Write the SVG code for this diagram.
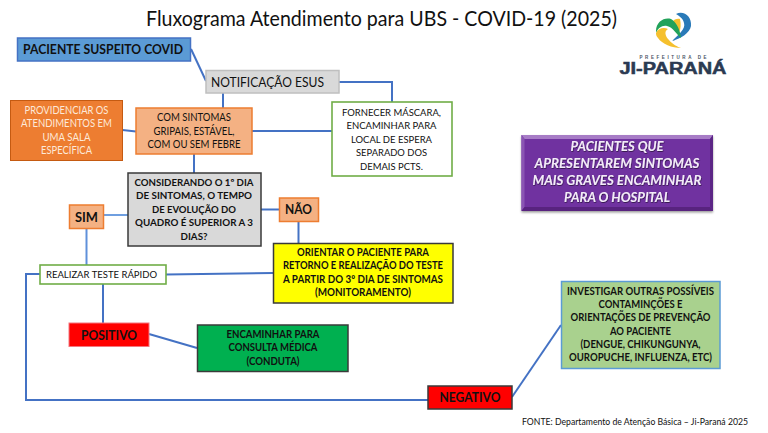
<svg xmlns="http://www.w3.org/2000/svg" width="768" height="433" viewBox="0 0 768 433">
<defs>
<filter id="sh" x="-5%" y="-5%" width="110%" height="115%"><feDropShadow dx="0" dy="1.5" stdDeviation="1" flood-color="#000" flood-opacity=".4"/></filter>
<filter id="ts" x="-5%" y="-5%" width="110%" height="115%"><feDropShadow dx="0.5" dy="0.8" stdDeviation="0.5" flood-color="#000" flood-opacity=".6"/></filter>
</defs>
<style>
text{font-family:Lato,"Liberation Sans",sans-serif;text-anchor:middle;fill:#111}
.b{font-weight:700}
.c{fill:none;stroke:#4472c4;stroke-width:2}
.box{stroke-width:1.5}
.or{fill:#f4b183;stroke:#ed7d31}
.gr{fill:#d9d9d9;stroke:#bfbfbf}
.wg{fill:#fff;stroke:#70ad47;stroke-width:1.6}
.dk{stroke:#3a3a3a}
</style>
<rect width="768" height="433" fill="#fff"/>
<text id="title" x="381.500" y="26" font-size="21.500" textLength="471" lengthAdjust="spacingAndGlyphs">Fluxograma Atendimento para UBS - COVID-19 (2025)</text>

<g id="connectors">
<path class="c" d="M191 49L206 81"/>
<path class="c" d="M339 82H392V102"/>
<path class="c" d="M223 93V108"/>
<path class="c" d="M122.500 130L136 131.500"/>
<path class="c" d="M252 131H332"/>
<path class="c" d="M194 154V173"/>
<path class="c" d="M261 209.500H279"/>
<path class="c" d="M103.500 215H128" style="stroke:#6f9fe0"/>
<path class="c" d="M86.500 228V265" style="stroke:#5f90da"/>
<path class="c" d="M298.500 221V243"/>
<path class="c" d="M166 274.500L273 273"/>
<path class="c" d="M40 274H26V400H428"/>
<path class="c" d="M103 284V323"/>
<path class="c" d="M149 334L197 348"/>
<path class="c" d="M512 397L561 325"/>
</g>

<g id="n-paciente"><rect class="box" x="17.500" y="38" width="173" height="23" fill="#5b9bd5" stroke="#4472c4"/>
<text class="b" x="103" y="54" font-size="12.500" textLength="160" lengthAdjust="spacingAndGlyphs">PACIENTE SUSPEITO COVID</text></g>

<g id="n-notificacao"><rect class="box gr" x="206" y="70.500" width="133" height="22.500"/>
<text x="267.500" y="86.500" font-size="13" textLength="113" lengthAdjust="spacingAndGlyphs">NOTIFICAÇÃO ESUS</text></g>

<g id="n-providenciar"><rect x="10.500" y="100.500" width="112" height="60" fill="#ed7d31" stroke="#c55a11" stroke-width="1"/>
<g font-size="10.500">
<text x="66.500" y="114" style="fill:#fde9d9" textLength="84" lengthAdjust="spacingAndGlyphs">PROVIDENCIAR OS</text>
<text x="66.500" y="127" style="fill:#fde9d9" textLength="91" lengthAdjust="spacingAndGlyphs">ATENDIMENTOS EM</text>
<text x="66.500" y="141" style="fill:#fde9d9" textLength="48" lengthAdjust="spacingAndGlyphs">UMA SALA</text>
<text x="66.500" y="154" style="fill:#fde9d9" textLength="51" lengthAdjust="spacingAndGlyphs">ESPECÍFICA</text></g></g>

<g id="n-sintomas"><rect class="box or" x="136" y="108" width="116" height="46"/>
<g font-size="10.500">
<text x="194" y="121" textLength="74" lengthAdjust="spacingAndGlyphs">COM SINTOMAS</text>
<text x="194" y="135" textLength="81" lengthAdjust="spacingAndGlyphs">GRIPAIS, ESTÁVEL,</text>
<text x="194" y="148" textLength="93" lengthAdjust="spacingAndGlyphs">COM OU SEM FEBRE</text></g></g>

<g id="n-fornecer"><rect class="wg" x="332" y="102" width="120" height="74"/>
<g font-size="10">
<text x="391.500" y="116" textLength="99" lengthAdjust="spacingAndGlyphs">FORNECER MÁSCARA,</text>
<text x="391.500" y="129" textLength="90" lengthAdjust="spacingAndGlyphs">ENCAMINHAR PARA</text>
<text x="391.500" y="143" textLength="81" lengthAdjust="spacingAndGlyphs">LOCAL DE ESPERA</text>
<text x="391.500" y="156" textLength="71" lengthAdjust="spacingAndGlyphs">SEPARADO DOS</text>
<text x="391.500" y="170" textLength="63" lengthAdjust="spacingAndGlyphs">DEMAIS PCTS.</text></g></g>

<g id="n-considerando"><rect class="box dk" x="128" y="173" width="133" height="73" fill="#d9d9d9"/>
<g class="b" font-size="10">
<text x="194" y="186" textLength="119" lengthAdjust="spacingAndGlyphs">CONSIDERANDO O 1º DIA</text>
<text x="194" y="199" textLength="116" lengthAdjust="spacingAndGlyphs">DE SINTOMAS, O TEMPO</text>
<text x="194" y="213" textLength="84" lengthAdjust="spacingAndGlyphs">DE EVOLUÇÃO DO</text>
<text x="194" y="226" textLength="118" lengthAdjust="spacingAndGlyphs">QUADRO É SUPERIOR A 3</text>
<text x="194" y="240" textLength="27" lengthAdjust="spacingAndGlyphs">DIAS?</text></g></g>

<g id="n-sim"><rect class="box or" x="69.500" y="205" width="34" height="23.500"/>
<text class="b" x="86.500" y="222" font-size="13" textLength="23" lengthAdjust="spacingAndGlyphs">SIM</text></g>

<g id="n-nao"><rect class="box or" x="279.500" y="198" width="39" height="23.500"/>
<text class="b" x="298.500" y="214" font-size="13.500" textLength="27" lengthAdjust="spacingAndGlyphs">NÃO</text></g>

<g id="n-teste"><rect class="wg" x="40" y="265" width="126" height="19"/>
<text x="101.500" y="278" font-size="10" textLength="111" lengthAdjust="spacingAndGlyphs">REALIZAR TESTE RÁPIDO</text></g>

<g id="n-orientar"><rect class="box dk" x="273.500" y="243.500" width="179.500" height="59.500" fill="#ff0"/>
<g class="b" font-size="10.500">
<text x="363" y="256" textLength="132" lengthAdjust="spacingAndGlyphs">ORIENTAR O PACIENTE PARA</text>
<text x="363" y="269" textLength="160" lengthAdjust="spacingAndGlyphs">RETORNO E REALIZAÇÃO DO TESTE</text>
<text x="363" y="283" textLength="160" lengthAdjust="spacingAndGlyphs">A PARTIR DO 3º DIA DE SINTOMAS</text>
<text x="363" y="296" textLength="96" lengthAdjust="spacingAndGlyphs">(MONITORAMENTO)</text></g></g>

<g id="n-positivo"><rect x="69" y="323" width="80" height="23.500" fill="#f00" stroke="#f4777f" stroke-width="1"/>
<text class="b" x="109" y="340" font-size="13.500" textLength="56" lengthAdjust="spacingAndGlyphs">POSITIVO</text></g>

<g id="n-encaminhar"><rect class="box dk" x="197.500" y="325" width="150.500" height="46.500" fill="#00b050"/>
<g class="b" font-size="10.500">
<text x="273" y="338" textLength="93" lengthAdjust="spacingAndGlyphs">ENCAMINHAR PARA</text>
<text x="273" y="351" textLength="89" lengthAdjust="spacingAndGlyphs">CONSULTA MÉDICA</text>
<text x="273" y="365" textLength="53" lengthAdjust="spacingAndGlyphs">(CONDUTA)</text></g></g>

<g id="n-negativo"><rect class="box dk" x="428" y="386" width="84" height="23" fill="#f00"/>
<text class="b" x="470" y="402" font-size="13" textLength="61" lengthAdjust="spacingAndGlyphs">NEGATIVO</text></g>

<g id="n-investigar"><rect class="box" x="561.500" y="281.500" width="158.500" height="87" fill="#a9d18e" stroke="#5b9bd5"/>
<g class="b" font-size="10.500">
<text x="640.500" y="295" textLength="147" lengthAdjust="spacingAndGlyphs">INVESTIGAR OUTRAS POSSÍVEIS</text>
<text x="640.500" y="308" textLength="84" lengthAdjust="spacingAndGlyphs">CONTAMINÇÕES E</text>
<text x="640.500" y="321" textLength="140" lengthAdjust="spacingAndGlyphs">ORIENTAÇÕES DE PREVENÇÃO</text>
<text x="640.500" y="335" textLength="61" lengthAdjust="spacingAndGlyphs">AO PACIENTE</text>
<text x="640.500" y="348" textLength="120" lengthAdjust="spacingAndGlyphs">(DENGUE, CHIKUNGUNYA,</text>
<text x="640.500" y="361" textLength="143" lengthAdjust="spacingAndGlyphs">OUROPUCHE, INFLUENZA, ETC)</text></g></g>

<g id="n-hospital"><rect x="521.500" y="135" width="191.500" height="76" fill="#7030a0" filter="url(#sh)"/>
<path d="M521.500 135H713L710 139H524.500Z" fill="#a77cc6"/>
<path d="M521.500 135L524.500 139V207L521.500 211Z" fill="#8a55b3"/>
<path d="M713 135L710 139V207L713 211Z" fill="#5b2585"/>
<path d="M521.500 211L524.500 207H710L713 211Z" fill="#58237f"/>
<g class="b" font-size="13" font-style="italic" filter="url(#ts)">
<text x="617" y="151" style="fill:#f3ecf8" textLength="93" lengthAdjust="spacingAndGlyphs">PACIENTES QUE</text>
<text x="617" y="168" style="fill:#f3ecf8" textLength="165" lengthAdjust="spacingAndGlyphs">APRESENTAREM SINTOMAS</text>
<text x="617" y="185" style="fill:#f3ecf8" textLength="169" lengthAdjust="spacingAndGlyphs">MAIS GRAVES ENCAMINHAR</text>
<text x="617" y="202" style="fill:#f3ecf8" textLength="106" lengthAdjust="spacingAndGlyphs">PARA O HOSPITAL</text></g></g>

<text id="fonte" x="635" y="424.500" font-size="9" textLength="226" lengthAdjust="spacingAndGlyphs">FONTE: Departamento de Atenção Básica – Ji-Paraná 2025</text>

<g id="logo">
<path d="M676 14C684 10 692 17 691 26C690 33 680 39 672 41C678 35 686 29 684 23C683 18 679 16 676 14Z" fill="#2a7ab8"/>
<path d="M672 22C674 19 678 18 680 19C681 24 681 29 679 32C677 28 675 24 672 22Z" fill="#f5c02e"/>
<path d="M656 31C656 22 664 17 671 19C675 21 680 28 681 38C676 34 673 27 667 26C662 25 658 28 656 33Z" fill="#22a25a"/>
<path d="M656 33C658 28 664 27 668 29C664 31 665 36 669 40C672 44 678 47 681 48C672 48 662 44 658 38C656 36 656 34 656 33Z" fill="#f5c02e"/>
<text x="673" y="59" font-size="4.500" font-weight="700" textLength="67" lengthAdjust="spacing" style="fill:#4a5566;font-family:'Liberation Sans',sans-serif">PREFEITURA DE</text>
<text x="673" y="74" font-size="16" textLength="107" lengthAdjust="spacingAndGlyphs" style="fill:#2b3a52;font-family:'Liberation Sans',sans-serif;font-weight:700;stroke:#2b3a52;stroke-width:.5">JI-PARANÁ</text>
</g>
</svg>
